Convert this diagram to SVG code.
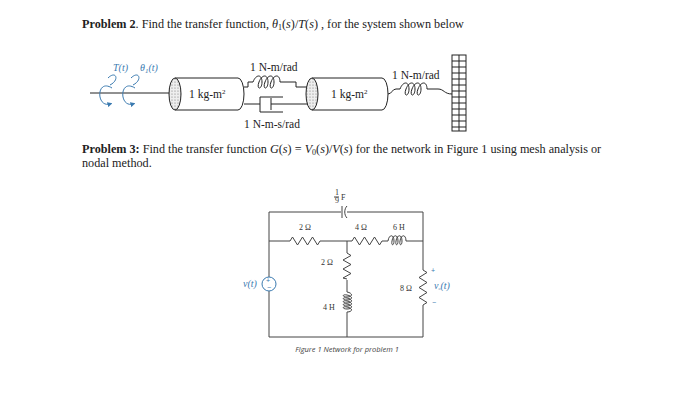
<svg xmlns="http://www.w3.org/2000/svg" width="700" height="402" viewBox="0 0 700 402">
<style>
.t{font-family:"Liberation Serif",serif;font-size:12.2px;fill:#222}
.b{font-weight:bold}
.m{font-family:"Liberation Serif",serif;font-size:11.5px;fill:#222}
.s{font-family:"Liberation Serif",serif;font-size:8px;fill:#333}
.bl{font-family:"Liberation Serif",serif;font-size:10px;fill:#3a7ab0;font-style:italic}
.w{fill:none;stroke:#444;stroke-width:1}
.wm{fill:none;stroke:#222;stroke-width:1}
</style>
<defs>
<pattern id="dots" width="3" height="3" patternUnits="userSpaceOnUse"><rect width="3" height="3" fill="#eee"/><circle cx="1" cy="1" r="0.6" fill="#777"/></pattern>
<marker id="ah" markerWidth="5" markerHeight="5" refX="2.5" refY="2.5" orient="auto"><path d="M0,0L5,2.5L0,5z" fill="#3a7ab0"/></marker>
</defs>
<rect width="700" height="402" fill="#fff"/>
<text class="t" x="82" y="28"><tspan class="b">Problem 2</tspan>. Find the transfer function, <tspan font-style="italic">θ</tspan><tspan font-size="8" dy="2">1</tspan><tspan dy="-2">(<tspan font-style="italic">s</tspan>)/<tspan font-style="italic">T</tspan>(<tspan font-style="italic">s</tspan>) , for the system shown below</tspan></text>

<g id="mech">
<line class="wm" x1="90" y1="93" x2="172" y2="93"/>
<path d="M112,88 C96,78 96,108 110,104" fill="none" stroke="#3a7ab0" marker-end="url(#ah)"/>
<path d="M110,85 C120,80 116,70 108,78" fill="none" stroke="#3a7ab0"/>
<path d="M135,88 C119,78 119,108 133,104" fill="none" stroke="#3a7ab0" marker-end="url(#ah)"/>
<path d="M133,85 C143,80 139,70 131,78" fill="none" stroke="#3a7ab0"/>
<text class="bl" x="113" y="71">T(t)</text>
<text class="bl" x="140" y="71">θ<tspan font-size="7" dy="2">1</tspan><tspan dy="-2">(t)</tspan></text>
<g id="inertia1"><path class="wm" d="M175,78 H238 A6,16 0 0 1 238,110 H175" fill="#fff"/><ellipse cx="175" cy="94" rx="6" ry="16" fill="url(#dots)" stroke="#222"/><text class="m" x="189" y="98">1 kg-m<tspan font-size="7" dy="-4">2</tspan></text></g>
<g id="spring1"><path class="wm" d="M244,87 H248 V82 H253 c3,-8 9,-8 9,0 c0,8 -6,8 -3,0 c3,-8 9,-8 9,0 c0,8 -6,8 -3,0 c3,-8 9,-8 9,0 c0,8 -6,8 -3,0 c3,-8 9,-8 9,0 H296 V87 H310"/><text class="m" x="250" y="71">1 N-m/rad</text></g>
<g id="damper"><path class="wm" d="M244,104 H260 M283,97 H260 V112 H283 M271,104 H310 M271,98 v12"/><text class="m" x="244" y="128">1 N-m-s/rad</text></g>
<g id="inertia2"><path class="wm" d="M312,78 H382 A6,16 0 0 1 382,110 H312" fill="#fff"/><ellipse cx="312" cy="94" rx="6" ry="16" fill="url(#dots)" stroke="#222"/><text class="m" x="331" y="98">1 kg-m<tspan font-size="7" dy="-4">2</tspan></text></g>
<g id="spring2"><path class="wm" d="M388,94 C392,94 392,89 396,89 H400 c3,-8 9,-8 9,0 c0,8 -6,8 -3,0 c3,-8 9,-8 9,0 c0,8 -6,8 -3,0 c3,-8 9,-8 9,0 c0,8 -6,8 -3,0 c3,-8 9,-8 9,0 H438 C444,89 444,94 452,94"/><text class="m" x="392" y="79">1 N-m/rad</text></g>
<g id="wall"><rect x="452" y="55" width="14" height="76" fill="#fff" stroke="#222"/>
<path class="wm" d="M459,55 V131 M452,61 H466 M452,67 H466 M452,73 H466 M452,79 H466 M452,85 H466 M452,91 H466 M452,97 H466 M452,103 H466 M452,109 H466 M452,115 H466 M452,121 H466 M452,127 H466"/></g>
</g>

<text class="t" x="82" y="153"><tspan class="b">Problem 3:</tspan> Find the transfer function <tspan font-style="italic">G</tspan>(<tspan font-style="italic">s</tspan>) = <tspan font-style="italic">V</tspan><tspan font-size="8" dy="2">0</tspan><tspan dy="-2">(<tspan font-style="italic">s</tspan>)/<tspan font-style="italic">V</tspan>(<tspan font-style="italic">s</tspan>) for the network in Figure 1 using mesh analysis or</tspan></text>
<text class="t" x="82" y="167">nodal method.</text>

<g id="circuit">
<g id="wires">
<path class="w" d="M269,212 H341 M347,212 H423 V270 M423,305 V337 H269 V291 M269,277 V212 M269,241 H290 M320,241 H352 M347,241 V253 M347,280 V288 M347,330 V337"/>
</g>
<g id="cap"><path class="w" d="M342,206 V218 M347,206 C344,209 344,215 347,218"/><text class="s" x="341" y="200">F</text><text class="s" x="335" y="195" font-size="6">1</text><line class="w" x1="334" y1="197" x2="339" y2="197" stroke-width="0.6"/><text class="s" x="335" y="203" font-size="6">9</text></g>
<g id="r2a"><path class="w" d="M290,241 l2.5,-4 l5,8 l5,-8 l5,8 l5,-8 l5,8 l2.5,-4"/><text class="s" x="299" y="230">2 Ω</text></g>
<g id="r4"><path class="w" d="M352,241 l2.5,-4 l5,8 l5,-8 l5,8 l5,-8 l5,8 l2.5,-4"/><text class="s" x="355" y="230">4 Ω</text></g>
<g id="l6"><path class="w" d="M382,241 H388 c1,-7 6,-7 6,0 c0,5 -3,5 -2,0 c1,-7 6,-7 6,0 c0,5 -3,5 -2,0 c1,-7 6,-7 6,0 c0,5 -3,5 -2,0 c1,-7 6,-7 6,0 H423"/><text class="s" x="393" y="230">6 H</text></g>
<g id="r2b"><path class="w" d="M347,253 l4,2.5 l-8,4.5 l8,4.5 l-8,4.5 l8,4.5 l-8,4.5 l4,1"/><text class="s" x="321" y="265">2 Ω</text></g>
<g id="l4"><path class="w" d="M347,288 v4 c6,1 6,5 0,5 c-5,0 -5,-3 0,-2 c6,1 6,5 0,5 c-5,0 -5,-3 0,-2 c6,1 6,5 0,5 c-5,0 -5,-3 0,-2 c6,1 6,5 0,5 c-5,0 -5,-3 0,-2 c6,1 6,5 0,5 c-5,0 -5,-3 0,-2 c6,1 6,5 0,5 V330"/><text class="s" x="323" y="310">4 H</text></g>
<g id="r8"><path class="w" d="M423,270 l4,2.5 l-8,5 l8,5 l-8,5 l8,5 l-8,5 l8,5 l-4,2.5"/><text class="s" x="400" y="291">8 Ω</text></g>
<g id="src"><circle cx="269" cy="284" r="7" fill="#fff" stroke="#3a7ab0"/><text x="266" y="283" font-family="Liberation Sans,sans-serif" font-size="7" fill="#3a7ab0">+</text><text x="267" y="290" font-family="Liberation Sans,sans-serif" font-size="7" fill="#3a7ab0">−</text><text class="bl" x="243" y="287" font-size="6">v(t)</text></g>
<text x="431" y="273" font-family="Liberation Sans,sans-serif" font-size="7" fill="#3a7ab0">+</text>
<text class="bl" x="434" y="289" font-size="6">v<tspan font-size="4" dy="1">o</tspan><tspan dy="-1">(t)</tspan></text>
<text x="432" y="305" font-family="Liberation Sans,sans-serif" font-size="7" fill="#3a7ab0">−</text>
<text x="347" y="352" text-anchor="middle" font-family="Open Sans,sans-serif" font-size="7.5" font-style="italic" fill="#444">Figure 1 Network for problem 1</text>
</g>
</svg>
